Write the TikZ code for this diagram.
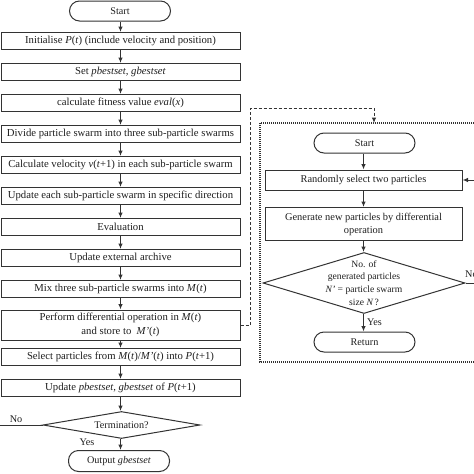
\documentclass[tikz,border=0pt]{standalone}
\usepackage{fontspec}
\setmainfont{Liberation Serif}
\usetikzlibrary{shapes.geometric,arrows.meta}
\definecolor{ln}{HTML}{333333}
\definecolor{tx}{HTML}{1E1E1E}
\tikzset{
  box/.style={draw=ln,line width=1pt,minimum height=17pt,inner sep=1pt,
    font=\fontsize{10.7}{13.5}\selectfont,text=tx,align=center},
  lbox/.style={box,minimum width=239pt},
  rbox/.style={box,minimum width=197pt,font=\fontsize{10.4}{13}\selectfont},
  term/.style={box,rounded corners=10pt,minimum height=20pt,minimum width=101pt,font=\fontsize{10.2}{12}\selectfont},
  dec/.style={draw=ln,line width=1pt,diamond,inner sep=0pt},
  lab/.style={font=\fontsize{10.2}{12.7}\selectfont,text=tx,align=center,inner sep=0pt},
  dlab/.style={font=\fontsize{9.6}{12.7}\selectfont,text=tx,align=center,inner sep=0pt},
  arr/.style={draw=ln,line width=1pt,-{Latex[length=5.5pt,width=4.5pt]}},
  ln/.style={draw=ln,line width=1pt}
}
\begin{document}
\begin{tikzpicture}[x=1pt,y=-1pt]
\useasboundingbox (0,0) rectangle (474,474);
% left column
\node[term] (s) at (120,11) {Start};
\node[lbox] (n1) at (120.5,41) {Initialise \textit{P}(\textit{t}) (include velocity and position)};
\node[lbox] (n2) at (120.5,72) {Set \textit{pbestset, gbestset}};
\node[lbox] (n3) at (120.5,103) {calculate fitness value \textit{eval}(\textit{x})};
\node[lbox] (n4) at (120.5,134) {Divide particle swarm into three sub-particle swarms};
\node[lbox] (n5) at (120.5,165) {Calculate velocity \textit{v}(\textit{t}+1) in each sub-particle swarm};
\node[lbox] (n6) at (120.5,196) {Update each sub-particle swarm in specific direction};
\node[lbox] (n7) at (120.5,227) {Evaluation};
\node[lbox] (n8) at (120.5,258) {Update external archive};
\node[lbox] (n9) at (120.5,289) {Mix three sub-particle swarms into \textit{M}(\textit{t})};
\node[lbox,minimum height=30pt] (n10) at (120.5,325) {Perform differential operation in \textit{M}(\textit{t})\\and store to \ \textit{M'}(\textit{t})};
\node[lbox] (n11) at (120.5,357) {Select particles from \textit{M}(\textit{t})/\textit{M'}(\textit{t}) into \textit{P}(\textit{t}+1)};
\node[lbox] (n12) at (120.5,388) {Update \textit{pbestset}, \textit{gbestset} of \textit{P}(\textit{t}+1)};
\node[dec,minimum width=157pt,minimum height=27pt,label={[lab]center:Termination?}] (d1) at (121.5,425) {};
\node[term,minimum height=21pt] (out) at (119,461) {Output \textit{gbestset}};
\coordinate (noL) at (-10,425);

\foreach \a/\b in {s/n1,n1/n2,n2/n3,n3/n4,n4/n5,n5/n6,n6/n7,n7/n8,n8/n9,n9/n10,n10/n11,n11/n12}
  \draw[arr] (\a.south -| n1.center) -- (\b.north -| n1.center);
\draw[arr] (n12.south -| n1.center) -- (d1.north -| n1.center);
\draw[arr] (d1.south -| n1.center) -- (out.north -| n1.center);
\node[lab] (yesL) at (87,442) {Yes};
\draw[ln] (d1.west) -- (noL);
\node[lab] (noLl) at (16,419) {No};

% right panel
\coordinate (ftl) at (260,123);
\coordinate (fbr) at (490,362);
\draw[ln,densely dotted,line width=1.1pt] (ftl) rectangle (fbr);
\coordinate (ftop) at (374,123);
\coordinate (c1) at (250,325);
\coordinate (c2) at (250,108);
\coordinate (c3) at (374,108);
\draw[ln,dash pattern=on 3pt off 2pt,-{Latex[length=5.5pt,width=4.5pt]}] (n10.east |- c1) -- (c1) -- (c2) -- (c3) -- (ftop);

\node[term] (s2) at (364.5,143) {Start};
\node[rbox,minimum height=20pt] (r1) at (363.5,180) {Randomly select two particles};
\node[rbox,minimum height=33pt] (r2) at (363.5,224) {Generate new particles by differential\\operation};
\node[dec,minimum width=202pt,minimum height=61pt,
  label={[dlab]center:No. of\\generated particles\\\textit{N'} = particle swarm\\size \textit{N\,}?}] (d2) at (364,283) {};
\node[term] (ret) at (364.5,342) {Return};
\coordinate (k1) at (485,283);
\coordinate (k2) at (485,180);

\draw[arr] (s2.south -| r1.center) -- (r1.north);
\draw[arr] (r1.south) -- (r2.north);
\draw[arr] (r2.south) -- (d2.north -| r2.center);
\draw[arr] (d2.south -| r2.center) -- (ret.north -| r2.center) node[lab,pos=0.45,right=3pt] {Yes};
\draw[arr] (d2.east) -- (k1) -- (k2) -- (r1.east);
\node[lab,anchor=south west] (nor) at (465,278) {No};
\end{tikzpicture}
\end{document}
